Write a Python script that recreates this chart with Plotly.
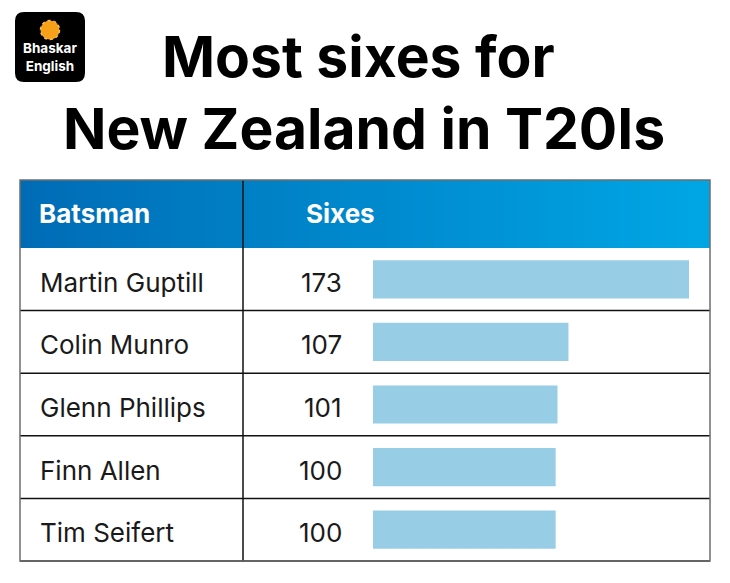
import plotly.graph_objects as go

# ---- data ----
batsmen = ["Martin Guptill", "Colin Munro", "Glenn Phillips", "Finn Allen", "Tim Seifert"]
sixes = [173, 107, 101, 100, 100]
col_headers = ["Batsman", "Sixes"]
title_lines = ["Most sixes for", "New Zealand in T20Is"]

W, H = 730, 583
FONT = "Inter"

def px(x):
    return x / W

def py(y):
    return 1 - y / H

n = len(batsmen)
ypos = list(range(n))

fig = go.Figure()
fig.add_trace(go.Bar(
    x=sixes, y=ypos, orientation="h",
    marker=dict(color="#98CDE6", line=dict(width=0)),
    width=0.61, hoverinfo="skip", showlegend=False,
))

# table geometry (pixels)
tl, tr, ttop, hbot, tbot, cdiv = 20, 710, 180, 248, 561, 243
bar_x0, bar_x1 = 373, 689
row_h = (tbot - hbot) / n

shapes = []
# header gradient stripes (overlapping to avoid seams)
c0 = (0x00, 0x6C, 0xB6)
c1 = (0x00, 0xA6, 0xE4)
steps = 60
for i in range(steps):
    t = i / (steps - 1)
    col = tuple(round(a + (b - a) * t) for a, b in zip(c0, c1))
    xa = tl + (tr - tl) * i / steps
    xb = tl + (tr - tl) * (i + 1) / steps + 3
    shapes.append(dict(type="rect", xref="paper", yref="paper",
                       x0=px(xa), x1=px(min(xb, tr)), y0=py(hbot), y1=py(ttop),
                       fillcolor="rgb(%d,%d,%d)" % col, line=dict(width=0), layer="below"))
# row separators
for i in range(1, n):
    yy = hbot + row_h * i
    shapes.append(dict(type="line", xref="paper", yref="paper",
                       x0=px(tl), x1=px(tr), y0=py(yy), y1=py(yy),
                       line=dict(color="#111111", width=1.5)))
# column divider
shapes.append(dict(type="line", xref="paper", yref="paper",
                   x0=px(cdiv), x1=px(cdiv), y0=py(tbot), y1=py(ttop),
                   line=dict(color="#111111", width=1.5)))
# bottom line
shapes.append(dict(type="line", xref="paper", yref="paper",
                   x0=px(tl), x1=px(tr), y0=py(tbot), y1=py(tbot),
                   line=dict(color="#111111", width=1.5)))
# outer border
shapes.append(dict(type="rect", xref="paper", yref="paper",
                   x0=px(tl), x1=px(tr), y0=py(tbot), y1=py(ttop),
                   line=dict(color="#6E6E6E", width=1.5)))

# logo (rounded square)
lx0, ly0, lx1, ly1, r = 15, 12, 85, 82, 9
def ptxt(x, y):
    return f"{px(x):.5f},{py(y):.5f}"
path = (f"M {ptxt(lx0+r,ly0)} L {ptxt(lx1-r,ly0)} Q {ptxt(lx1,ly0)} {ptxt(lx1,ly0+r)} "
        f"L {ptxt(lx1,ly1-r)} Q {ptxt(lx1,ly1)} {ptxt(lx1-r,ly1)} L {ptxt(lx0+r,ly1)} "
        f"Q {ptxt(lx0,ly1)} {ptxt(lx0,ly1-r)} L {ptxt(lx0,ly0+r)} Q {ptxt(lx0,ly0)} {ptxt(lx0+r,ly0)} Z")
shapes.append(dict(type="path", xref="paper", yref="paper", path=path,
                   fillcolor="#000000", line=dict(width=0)))
# sun
shapes.append(dict(type="circle", xref="paper", yref="paper",
                   x0=px(40.5), x1=px(59.5), y0=py(39.5), y1=py(20.5),
                   fillcolor="#F7A11A", line=dict(color="#FBC04A", width=1.5, dash="dot")))

annotations = []
# title
annotations.append(dict(xref="paper", yref="paper", x=px(358), y=py(56), text="<b>%s</b>" % title_lines[0],
                        showarrow=False, xanchor="center", yanchor="middle",
                        font=dict(family=FONT, size=57, color="#000000")))
annotations.append(dict(xref="paper", yref="paper", x=px(364), y=py(129), text="<b>%s</b>" % title_lines[1],
                        showarrow=False, xanchor="center", yanchor="middle",
                        font=dict(family=FONT, size=57, color="#000000")))
# logo text
annotations.append(dict(xref="paper", yref="paper", x=px(50), y=py(57),
                        text="<b>Bhaskar<br>English</b>", showarrow=False,
                        xanchor="center", yanchor="middle", align="center",
                        font=dict(family=FONT, size=13.5, color="#FFFFFF")))
# headers
annotations.append(dict(xref="paper", yref="paper", x=px(37), y=py(214), text="<b>%s</b>" % col_headers[0],
                        showarrow=False, xanchor="left", yanchor="middle",
                        font=dict(family=FONT, size=26, color="#FFFFFF")))
annotations.append(dict(xref="paper", yref="paper", x=px(304), y=py(214), text="<b>%s</b>" % col_headers[1],
                        showarrow=False, xanchor="left", yanchor="middle",
                        font=dict(family=FONT, size=26, color="#FFFFFF")))
# row texts
for i, (name, v) in enumerate(zip(batsmen, sixes)):
    annotations.append(dict(xref="paper", yref="y", x=px(38), y=i, text=name,
                            showarrow=False, xanchor="left", yanchor="middle", yshift=-3,
                            font=dict(family=FONT, size=26, color="#1A1A1A")))
    annotations.append(dict(xref="paper", yref="y", x=px(344), y=i, text=str(v),
                            showarrow=False, xanchor="right", yanchor="middle", yshift=-3,
                            font=dict(family=FONT, size=26, color="#1A1A1A")))

fig.update_layout(
    width=W, height=H,
    margin=dict(l=0, r=0, t=0, b=0),
    paper_bgcolor="#FFFFFF", plot_bgcolor="rgba(0,0,0,0)",
    xaxis=dict(domain=[px(bar_x0), px(bar_x1)], range=[0, max(sixes)],
               visible=False, fixedrange=True),
    yaxis=dict(domain=[py(tbot), py(hbot)], range=[n - 0.5, -0.5],
               visible=False, fixedrange=True),
    shapes=shapes, annotations=annotations,
    bargap=0.4,
)

fig.write_html("out.html")
